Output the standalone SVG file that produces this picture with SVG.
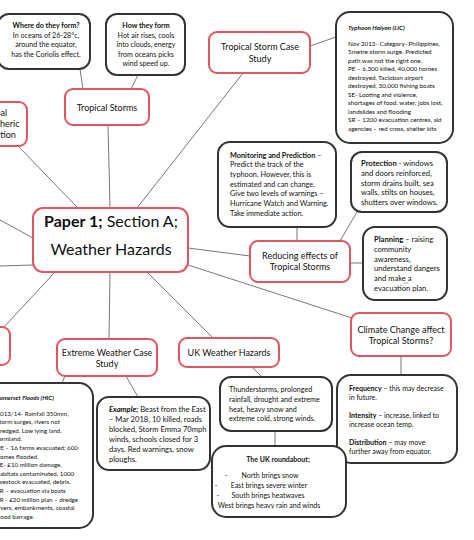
<svg xmlns="http://www.w3.org/2000/svg" width="474" height="540" viewBox="0 0 474 540">
<style>
.red{fill:#fff;stroke:#e05560;stroke-width:2}
.blk{fill:#fff;stroke:#333;stroke-width:2}
.ln{stroke:#777;stroke-width:1;fill:none}
text{font-family:Lato,"Liberation Sans",sans-serif;fill:#111}
.t9{font-size:9px;text-anchor:middle}
.c{text-anchor:middle}
.b{font-weight:bold}
.bi{font-weight:bold;font-style:italic}
</style>
<rect width="474" height="540" fill="#fff"/>
<g id="connectors">
<line class="ln" x1="80" y1="69" x2="83" y2="89"/>
<line class="ln" x1="138" y1="75" x2="131" y2="89"/>
<line class="ln" x1="108" y1="125" x2="110" y2="208"/>
<line class="ln" x1="18" y1="146" x2="78" y2="208"/>
<line class="ln" x1="243" y1="73" x2="137" y2="208"/>
<line class="ln" x1="310" y1="46" x2="336" y2="37"/>
<line class="ln" x1="0" y1="220" x2="33" y2="238"/>
<line class="ln" x1="0" y1="266" x2="33" y2="265"/>
<line class="ln" x1="55" y1="272" x2="4" y2="327"/>
<line class="ln" x1="188" y1="248" x2="250" y2="256"/>
<line class="ln" x1="188" y1="265" x2="352" y2="318"/>
<line class="ln" x1="297" y1="227" x2="297" y2="241"/>
<line class="ln" x1="357" y1="212" x2="340" y2="241"/>
<line class="ln" x1="350" y1="263" x2="363" y2="263"/>
<line class="ln" x1="401" y1="356" x2="401" y2="375"/>
<line class="ln" x1="110" y1="272" x2="109" y2="339"/>
<line class="ln" x1="147" y1="272" x2="213" y2="338"/>
<line class="ln" x1="65" y1="376" x2="62" y2="383"/>
<line class="ln" x1="126" y1="376" x2="138" y2="397"/>
<line class="ln" x1="252" y1="367" x2="262" y2="377"/>
<line class="ln" x1="275" y1="431" x2="275" y2="446"/>
</g>
<g id="where">
<rect class="blk" x="-2" y="14" width="92" height="55" rx="11"/>
<text class="c" style="font-size:7.1px" x="46" y="28"><tspan class="b">Where do they form?</tspan><tspan x="46" y="37.6">In oceans of 26-28°c,</tspan><tspan x="46" y="47.2">around the equator,</tspan><tspan x="46" y="56.8">has the Coriolis effect.</tspan></text>
</g>
<g id="how">
<rect class="blk" x="106" y="14" width="79" height="61" rx="11"/>
<text class="c" style="font-size:7.1px" x="146" y="28"><tspan class="b">How they form</tspan><tspan x="146" y="37.6">Hot air rises, cools</tspan><tspan x="146" y="47.2">into clouds, energy</tspan><tspan x="146" y="56.8">from oceans picks</tspan><tspan x="146" y="66.4">wind speed up.</tspan></text>
</g>
<g id="tropical-storms">
<rect class="red" x="65" y="89" width="84" height="36" rx="8"/>
<text class="t9" x="107" y="110.5">Tropical Storms</text>
</g>
<g id="global">
<rect class="red" x="-45" y="102" width="72" height="44" rx="8"/>
<text class="t9" x="-5.5" y="116">Global<tspan x="-5.5" y="127">Atmospheric</tspan><tspan x="-5.5" y="138">Circulation</tspan></text>
</g>
<g id="ts-case">
<rect class="red" x="209" y="32" width="101" height="41" rx="8"/>
<text class="t9" x="260" y="50">Tropical Storm Case<tspan x="260" y="61.5">Study</tspan></text>
</g>
<g id="haiyan">
<rect class="blk" x="336" y="12" width="117" height="131" rx="14"/>
<text style="font-size:6.3px" x="348" y="29.5"><tspan class="bi">Typhoon Haiyan (LIC)</tspan><tspan x="348" y="45.5">Nov 2013- Category- Philippines,</tspan><tspan x="348" y="54">5metre storm surge. Predicted</tspan><tspan x="348" y="62.5">path was not the right one.</tspan><tspan x="348" y="71">PE – 6,300 killed, 40,000 homes</tspan><tspan x="348" y="79.5">destroyed, Tacloban airport</tspan><tspan x="348" y="88">destroyed, 30,000 fishing boats</tspan><tspan x="348" y="96.5">SE- Looting and violence,</tspan><tspan x="348" y="105">shortages of food, water, jobs lost,</tspan><tspan x="348" y="113.5">landslides and flooding</tspan><tspan x="348" y="122">SR – 1200 evacuation centres, aid</tspan><tspan x="348" y="130.5">agencies – red cross, shelter kits</tspan></text>
</g>
<g id="central">
<rect class="red" x="33" y="208" width="155" height="64" rx="10"/>
<text x="111" y="227" style="font-size:16px;text-anchor:middle"><tspan class="b">Paper 1;</tspan> Section A;<tspan x="111" y="255">Weather Hazards</tspan></text>
</g>
<g id="monitoring">
<rect class="blk" x="218" y="142" width="118" height="85" rx="12"/>
<text style="font-size:7.3px" x="230" y="157.5"><tspan class="b">Monitoring and Prediction</tspan> –<tspan x="230" y="167.2">Predict the track of the</tspan><tspan x="230" y="176.9">typhoon. However, this is</tspan><tspan x="230" y="186.6">estimated and can change.</tspan><tspan x="230" y="196.3">Give two levels of warnings –</tspan><tspan x="230" y="206">Hurricane Watch and Warning.</tspan><tspan x="230" y="215.7">Take immediate action.</tspan></text>
</g>
<g id="protection">
<rect class="blk" x="351" y="152" width="96" height="60" rx="11"/>
<text style="font-size:7.6px" x="361" y="166.3"><tspan class="b">Protection</tspan> - windows<tspan x="361" y="175.9">and doors reinforced,</tspan><tspan x="361" y="185.5">storm drains built, sea</tspan><tspan x="361" y="195.1">walls, stilts on houses,</tspan><tspan x="361" y="204.7">shutters over windows.</tspan></text>
</g>
<g id="reducing">
<rect class="red" x="250" y="241" width="100" height="41" rx="8"/>
<text class="t9" x="300" y="258.5">Reducing effects of<tspan x="300" y="269.5">Tropical Storms</tspan></text>
</g>
<g id="planning">
<rect class="blk" x="363" y="227" width="84" height="73" rx="12"/>
<text style="font-size:7.6px" x="374" y="242"><tspan class="b">Planning</tspan> – raising<tspan x="374" y="251.8">community</tspan><tspan x="374" y="261.6">awareness,</tspan><tspan x="374" y="271.4">understand dangers</tspan><tspan x="374" y="281.2">and make a</tspan><tspan x="374" y="291">evacuation plan.</tspan></text>
<line x1="404" y1="283" x2="408.5" y2="283" stroke="#6a7fa8" stroke-width="0.7"/>
</g>
<g id="climate">
<rect class="red" x="351" y="313" width="100" height="43" rx="8"/>
<text class="t9" x="401" y="332.5">Climate Change affect<tspan x="401" y="343.5">Tropical Storms?</tspan></text>
</g>
<g id="frequency">
<rect class="blk" x="337" y="375" width="120" height="88" rx="14"/>
<text style="font-size:7px" x="349" y="391"><tspan class="b">Frequency</tspan> – this may decrease<tspan x="349" y="400">in future.</tspan><tspan x="349" y="418" class="b">Intensity</tspan> – increase, linked to<tspan x="349" y="427">increase ocean temp.</tspan><tspan x="349" y="445" class="b">Distribution</tspan> – may move<tspan x="349" y="454">further away from equator.</tspan></text>
</g>
<g id="left-bottom">
<rect class="red" x="-60" y="327" width="70" height="38" rx="8"/>
</g>
<g id="extreme">
<rect class="red" x="57" y="339" width="100" height="37" rx="8"/>
<text class="t9" x="107" y="356">Extreme Weather Case<tspan x="107" y="367">Study</tspan></text>
</g>
<g id="uk-hazards">
<rect class="red" x="179" y="338" width="100" height="29" rx="8"/>
<text class="t9" x="229" y="356">UK Weather Hazards</text>
</g>
<g id="somerset">
<rect class="blk" x="-20" y="383" width="113" height="145" rx="14"/>
<text style="font-size:6.2px" x="-3.5" y="399.5"><tspan class="bi">Somerset Floods (HIC)</tspan><tspan x="-3.5" y="415.5">2013/14- Rainfall 350mm,</tspan><tspan x="-3.5" y="424">storm surges, rivers not</tspan><tspan x="-3.5" y="432.5">dredged. Low lying land,</tspan><tspan x="-3.5" y="441">farmland.</tspan><tspan x="-3.5" y="450">PE – 16 farms evacuated; 600</tspan><tspan x="-3.5" y="458.5">homes flooded.</tspan><tspan x="-3.5" y="467">SE- £10 million damage,</tspan><tspan x="-3.5" y="475.5">habitats contaminated, 1000</tspan><tspan x="-3.5" y="484">livestock evacuated, debris.</tspan><tspan x="-3.5" y="493">SR – evacuation via boats</tspan><tspan x="-3.5" y="501.5">SR - £20 million plan – dredge</tspan><tspan x="-3.5" y="510">rivers, embankments, coastal</tspan><tspan x="-3.5" y="518.5">flood barrage.</tspan></text>
</g>
<g id="example">
<rect class="blk" x="97" y="397" width="113" height="73" rx="12"/>
<text style="font-size:7.6px" x="109" y="412"><tspan class="bi">Example;</tspan> Beast from the East<tspan x="109" y="422">– Mar 2018, 10 killed, roads</tspan><tspan x="109" y="432">blocked, Storm Emma 70mph</tspan><tspan x="109" y="442">winds, schools closed for 3</tspan><tspan x="109" y="452">days. Red warnings, snow</tspan><tspan x="109" y="462">ploughs.</tspan></text>
</g>
<g id="thunderstorms">
<rect class="blk" x="220" y="377" width="112" height="54" rx="11"/>
<text style="font-size:7.2px" x="229" y="392.3">Thunderstorms, prolonged<tspan x="229" y="402">rainfall, drought and extreme</tspan><tspan x="229" y="411.7">heat, heavy snow and</tspan><tspan x="229" y="421.4">extreme cold, strong winds.</tspan></text>
</g>
<g id="uk-roundabout">
<rect class="blk" x="212" y="446" width="134" height="71" rx="14"/>
<text class="c" style="font-size:7px" x="278" y="462"><tspan class="b">The UK roundabout;</tspan><tspan x="226" y="478">-</tspan><tspan x="270" y="478">North brings snow</tspan><tspan x="216" y="488">-</tspan><tspan x="269" y="488">East brings severe winter</tspan><tspan x="218" y="498">-</tspan><tspan x="268" y="498">South brings heatwaves</tspan><tspan x="269" y="508">West brings heavy rain and winds</tspan></text>
</g>
</svg>
